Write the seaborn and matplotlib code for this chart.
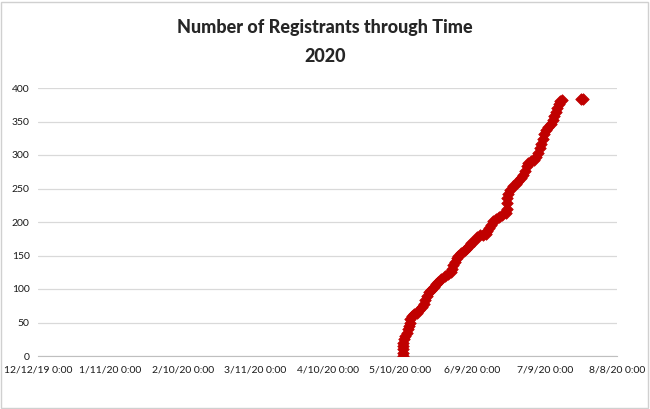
import pandas as pd
import numpy as np
import seaborn as sns
import matplotlib.pyplot as plt
import matplotlib.dates as mdates
from matplotlib.ticker import FuncFormatter

# registration times (days after 5/10/20 0:00) and running count
days = [1.3, 1.3, 1.4, 1.4, 1.5, 1.7, 2.2, 2.8, 3.2, 3.6, 4.0, 4.4, 5.0, 6.0, 7.0,
        8.0, 9.0, 9.8, 10.6, 11.3, 12.0, 13.0, 14.0, 15.0, 16.0, 17.2, 18.5, 20.0,
        21.2, 21.6, 22.0, 22.8, 23.5, 24.3, 25.3, 26.5, 27.5, 28.5, 29.5, 30.8,
        32.0, 33.2, 34.5, 35.5, 36.3, 37.0, 37.8, 38.8, 39.8, 41.0, 42.5, 43.8,
        44.2, 44.4, 44.6, 45.0, 45.8, 46.8, 48.0, 49.0, 50.0, 51.0, 51.8, 52.5,
        53.3, 54.5, 55.5, 56.5, 57.3, 58.0, 58.6, 59.2, 59.8, 60.5, 61.5, 62.5,
        63.3, 64.0, 64.6, 65.3, 65.9, 66.5, 67.2, 75.0, 75.8]
registrants = [0, 5, 10, 15, 20, 25, 30, 35, 40, 45, 50, 55, 60, 62, 64,
               68, 73, 78, 84, 90, 95, 99, 103, 107, 111, 115, 119, 122,
               125, 130, 136, 141, 146, 150, 153, 156, 160, 164, 168, 172,
               177, 180, 181, 182, 186, 191, 196, 201, 205, 208, 211, 214,
               220, 228, 236, 242, 248, 253, 257, 261, 265, 270, 276, 283,
               288, 291, 293, 297, 303, 310, 317, 324, 331, 337, 342, 347,
               352, 358, 364, 370, 376, 380, 382, 383, 384]

df = pd.DataFrame({
    'time': pd.Timestamp('2020-05-10') + pd.to_timedelta(days, unit='D'),
    'count': registrants,
})

x_start = pd.Timestamp('2019-12-12')
x_end = pd.Timestamp('2020-08-08')
x_ticks = pd.date_range(x_start, x_end, freq='30D')

sns.set_style('white')
plt.rcParams['font.family'] = ['Lato', 'DejaVu Sans']

fig = plt.figure(figsize=(6.5, 4.09), dpi=100)
ax = fig.add_axes([38 / 650, 1 - 356 / 409, (617 - 38) / 650, (356 - 88) / 409])

sns.scatterplot(data=df, x='time', y='count', marker='D', s=34, color='#C00000',
                edgecolor='#C00000', linewidth=0.6, ax=ax, zorder=3)

ax.set_xlim(x_start, x_end)
ax.set_ylim(0, 400)
ax.set_yticks(range(0, 401, 50))
ax.set_xticks(x_ticks)
ax.xaxis.set_major_formatter(FuncFormatter(
    lambda v, p: (lambda d: f'{d.month}/{d.day}/{d:%y} 0:00')(mdates.num2date(v))))
ax.grid(axis='y', color='#D9D9D9', linewidth=0.9)
ax.set_axisbelow(True)
for s in ['top', 'right', 'left']:
    ax.spines[s].set_visible(False)
ax.spines['bottom'].set_color('#BFBFBF')
ax.tick_params(axis='x', length=4, color='#BFBFBF', labelsize=7.5, pad=3, labelcolor='#1a1a1a')
ax.tick_params(axis='y', length=0, labelsize=7.5, pad=6, labelcolor='#1a1a1a')
ax.set_xlabel('')
ax.set_ylabel('')

fig.text(0.5, 1 - 27 / 409, 'Number of Registrants through Time', ha='center', va='center',
         fontsize=13, fontweight='black')
fig.text(0.5, 1 - 56 / 409, '2020', ha='center', va='center', fontsize=13, fontweight='black')

fig.patches.append(plt.Rectangle((0.002, 0.003), 0.995, 0.993, transform=fig.transFigure,
                                 fill=False, edgecolor='#D0D0D0', linewidth=1))

fig.savefig('out.png', dpi=100)
